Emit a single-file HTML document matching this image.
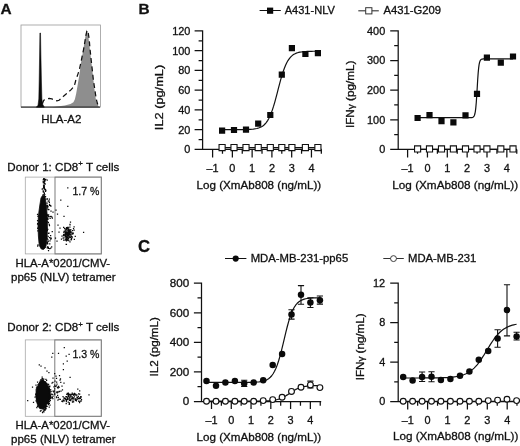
<!DOCTYPE html>
<html lang="en"><head><meta charset="utf-8"><title>Figure</title>
<style>html,body{margin:0;padding:0;background:#fff}svg{display:block}text{font-family:"Liberation Sans",sans-serif;fill:#111;stroke:#111;stroke-width:0.3px}</style>
</head><body>
<svg width="520" height="446" viewBox="0 0 520 446">
<rect width="520" height="446" fill="#fff"/>
<text x="0.5" y="14.1" font-size="15.4" font-weight="bold">A</text>
<text x="138.5" y="14.1" font-size="15.4" font-weight="bold">B</text>
<text x="137.9" y="252.3" font-size="16.7" font-weight="bold">C</text>
<g>
<rect x="21" y="25" width="79.4" height="82" fill="none" stroke="#9a9a9a" stroke-width="0.8"/>
<path d="M52 107.2 L57.2 106.4 L64.8 105.4 L70.5 104.1 L73.4 102.2 L74.9 99.3 L76.2 93.6 L77.5 86 L79.1 76.5 L81 63.1 L82.9 51.7 L84.8 40.2 L85.9 33 L86.7 29.6 L87.5 33 L88.6 38.3 L89.9 49.8 L91.5 63.1 L93 76.5 L94.3 87.9 L95.7 98.4 L97.2 104.1 L98.7 106.6 L99.5 107.2 Z" fill="#8e8e8e"/>
<path d="M36.3 107.2 L38 105.3 L38.8 99 L39.2 80 L39.6 55 L39.9 33 L40.5 33 L40.9 55 L41.4 80 L41.9 99 L42.8 104.5 L44.3 107.2 Z" fill="#0a0a0a" stroke="#0a0a0a" stroke-width="0.55"/>
<path d="M21 107.1 H100" stroke="#111" stroke-width="1" fill="none"/>
<path d="M42.3 103.8 L43.8 100.3 L46.7 98.9 L49.3 98.5 L51.8 98.9 L54.9 100.3 L57 100.8 L59.1 100.3 L63.8 95.9 L66.7 93.6 L71.4 89.4 L74.3 86 L75.8 80.3 L78.1 73.6 L79.5 68.8 L81 62.2 L82.3 55.5 L83.5 49.8 L85 41.2 L85.9 35.5 L87 30.4 L88.3 33.5 L89.2 39.3 L89.9 47.9 L90.5 53.6 L91.5 63.1 L92.4 70.7 L93.4 80.3 L94.3 86 L95.7 95.5 L96.6 100.3 L98.1 106" fill="none" stroke="#111" stroke-width="1.25" stroke-dasharray="5 3.4"/>
</g>
<text x="61.3" y="123.1" font-size="11.4" text-anchor="middle" textLength="40.2" lengthAdjust="spacingAndGlyphs">HLA-A2</text>
<text x="7.3" y="170.5" font-size="11.5" textLength="112" lengthAdjust="spacingAndGlyphs">Donor 1: CD8<tspan font-size="7.8" dy="-4.4">+</tspan><tspan dy="4.4"> T cells</tspan></text>
<rect x="25.3" y="177.1" width="76" height="76.8" fill="none" stroke="#a8a8a8" stroke-width="0.8"/>
<rect x="55" y="177.1" width="46.3" height="76.8" fill="none" stroke="#7c7c7c" stroke-width="1"/>
<path d="M42.5 195.5 L44.8 196 L45.6 200 L46.4 207 L47.2 215 L47.4 226 L47.2 236 L46.6 243 L45.6 247.5 L43.5 249.5 L41.3 249 L39.8 246.5 L39 243 L38.4 236 L38 226 L38.3 218 L39 211 L40 204 L41 198 Z" fill="#0a0a0a" stroke="#0a0a0a" stroke-width="0.8" stroke-linejoin="round"/>
<path d="M44.51 183.53h1.25v1.25h-1.25zM45.08 178.75h1.25v1.25h-1.25zM43.24 187.56h1.25v1.25h-1.25zM43.75 187.02h1.25v1.25h-1.25zM43.59 178.09h1.25v1.25h-1.25zM44.04 179.1h1.25v1.25h-1.25zM43.81 185.44h1.25v1.25h-1.25zM43.31 181.62h1.25v1.25h-1.25zM44.62 189.3h1.25v1.25h-1.25zM43.17 184.91h1.25v1.25h-1.25zM44.94 195.92h1.25v1.25h-1.25zM44.27 182.88h1.25v1.25h-1.25zM44.47 180.12h1.25v1.25h-1.25zM43.78 192.88h1.25v1.25h-1.25zM42.56 180.81h1.25v1.25h-1.25zM42.92 184.45h1.25v1.25h-1.25zM43.78 187.78h1.25v1.25h-1.25zM43.91 181.29h1.25v1.25h-1.25zM42.55 190.3h1.25v1.25h-1.25zM43.8 188.5h1.25v1.25h-1.25zM43 185.99h1.25v1.25h-1.25zM45 190.66h1.25v1.25h-1.25zM42.65 182.01h1.25v1.25h-1.25zM42.59 194h1.25v1.25h-1.25zM42.62 191.23h1.25v1.25h-1.25zM46.58 179.62h1.25v1.25h-1.25zM43.6 185.32h1.25v1.25h-1.25zM42.94 186.67h1.25v1.25h-1.25zM43.1 178.12h1.25v1.25h-1.25zM41.95 188.26h1.25v1.25h-1.25zM42.54 194.01h1.25v1.25h-1.25zM44.83 188.67h1.25v1.25h-1.25zM41.58 188.39h1.25v1.25h-1.25zM43.6 195.32h1.25v1.25h-1.25zM43.34 186.38h1.25v1.25h-1.25zM43.01 190.7h1.25v1.25h-1.25zM45.22 189.67h1.25v1.25h-1.25zM43.62 182.78h1.25v1.25h-1.25zM43.5 184.71h1.25v1.25h-1.25zM43.35 186.15h1.25v1.25h-1.25zM44.07 180.57h1.25v1.25h-1.25zM43.48 191.97h1.25v1.25h-1.25zM43.87 179.83h1.25v1.25h-1.25zM44.14 193.93h1.25v1.25h-1.25zM42.7 178.91h1.25v1.25h-1.25zM47.05 242.43h1.25v1.25h-1.25zM47.34 239.16h1.25v1.25h-1.25zM47.52 218.56h1.25v1.25h-1.25zM50.31 215.67h1.25v1.25h-1.25zM49.86 205.07h1.25v1.25h-1.25zM46.36 206.36h1.25v1.25h-1.25zM47.77 222.11h1.25v1.25h-1.25zM46.19 227.42h1.25v1.25h-1.25zM46.37 218.74h1.25v1.25h-1.25zM51.15 216.21h1.25v1.25h-1.25zM48.38 232.59h1.25v1.25h-1.25zM48.62 223.67h1.25v1.25h-1.25zM48.4 200.13h1.25v1.25h-1.25zM47.01 243.25h1.25v1.25h-1.25zM50.58 238.07h1.25v1.25h-1.25zM47 217.39h1.25v1.25h-1.25zM46.78 229.72h1.25v1.25h-1.25zM47.55 200.55h1.25v1.25h-1.25zM46.79 205.65h1.25v1.25h-1.25zM46.22 214.72h1.25v1.25h-1.25zM46.19 205.09h1.25v1.25h-1.25zM46.5 202.55h1.25v1.25h-1.25zM46.55 241.97h1.25v1.25h-1.25zM47.17 228.69h1.25v1.25h-1.25zM47.52 215.09h1.25v1.25h-1.25zM49.24 215.95h1.25v1.25h-1.25zM49.16 248.02h1.25v1.25h-1.25zM47.1 221.14h1.25v1.25h-1.25zM46.27 202.59h1.25v1.25h-1.25zM46.56 214.85h1.25v1.25h-1.25zM50.29 205.61h1.25v1.25h-1.25zM48.74 198.55h1.25v1.25h-1.25zM46.99 204.85h1.25v1.25h-1.25zM48.83 225.08h1.25v1.25h-1.25zM46.63 247.28h1.25v1.25h-1.25zM46.74 241.4h1.25v1.25h-1.25zM47.79 216.08h1.25v1.25h-1.25zM46.55 205.89h1.25v1.25h-1.25zM48.86 237.11h1.25v1.25h-1.25zM46.85 214.19h1.25v1.25h-1.25zM50.14 247.61h1.25v1.25h-1.25zM47.58 240.86h1.25v1.25h-1.25zM49.99 235.11h1.25v1.25h-1.25zM48.22 208.94h1.25v1.25h-1.25zM46.4 198.85h1.25v1.25h-1.25zM46.49 198.8h1.25v1.25h-1.25zM47.85 232.69h1.25v1.25h-1.25zM51.07 246.16h1.25v1.25h-1.25zM47.86 247.76h1.25v1.25h-1.25zM47.2 246.08h1.25v1.25h-1.25zM47.34 208.94h1.25v1.25h-1.25zM47.05 207.41h1.25v1.25h-1.25zM49.13 243.29h1.25v1.25h-1.25zM49.35 240.24h1.25v1.25h-1.25zM46.59 238.16h1.25v1.25h-1.25zM48.75 201.7h1.25v1.25h-1.25zM50.26 237.27h1.25v1.25h-1.25zM47.54 235.63h1.25v1.25h-1.25zM46.36 237.62h1.25v1.25h-1.25zM48.02 214.33h1.25v1.25h-1.25zM51.75 217.56h1.25v1.25h-1.25zM49.51 217.85h1.25v1.25h-1.25zM47.33 206.05h1.25v1.25h-1.25zM48.95 203.85h1.25v1.25h-1.25zM50.06 238.51h1.25v1.25h-1.25zM49.03 204.83h1.25v1.25h-1.25zM51.64 230.9h1.25v1.25h-1.25zM47.29 215.25h1.25v1.25h-1.25zM46.53 198.1h1.25v1.25h-1.25zM47.76 246.89h1.25v1.25h-1.25zM37.08 245.45h1.25v1.25h-1.25zM36.93 223.46h1.25v1.25h-1.25zM36.9 213.66h1.25v1.25h-1.25zM37.48 215.46h1.25v1.25h-1.25zM37.22 230.18h1.25v1.25h-1.25zM37.34 215.79h1.25v1.25h-1.25zM37.45 244.42h1.25v1.25h-1.25zM36.94 219.94h1.25v1.25h-1.25zM37.4 244.16h1.25v1.25h-1.25zM37.06 222.88h1.25v1.25h-1.25zM37.28 227.78h1.25v1.25h-1.25zM37.04 227.41h1.25v1.25h-1.25zM60.17 199.38h1.25v1.25h-1.25zM67.17 205.68h1.25v1.25h-1.25zM82.97 231.68h1.25v1.25h-1.25zM67.17 187.18h1.25v1.25h-1.25zM63.38 215.68h1.25v1.25h-1.25zM65.58 243.68h1.25v1.25h-1.25zM47.88 249.97h1.25v1.25h-1.25zM55.38 209.38h1.25v1.25h-1.25zM56.88 213.38h1.25v1.25h-1.25zM52.38 211.38h1.25v1.25h-1.25zM50.38 210.38h1.25v1.25h-1.25zM57.38 224.38h1.25v1.25h-1.25zM59.38 227.38h1.25v1.25h-1.25zM61.38 235.38h1.25v1.25h-1.25zM58.38 231.38h1.25v1.25h-1.25zM54.88 237.38h1.25v1.25h-1.25zM56.38 240.38h1.25v1.25h-1.25zM67.98 233.6h1.25v1.25h-1.25zM67.71 234.16h1.25v1.25h-1.25zM67.65 226.83h1.25v1.25h-1.25zM69.22 230.33h1.25v1.25h-1.25zM68.09 228.26h1.25v1.25h-1.25zM67.18 233.67h1.25v1.25h-1.25zM67.11 230.33h1.25v1.25h-1.25zM67.2 232.06h1.25v1.25h-1.25zM73.54 229.58h1.25v1.25h-1.25zM67.37 233.87h1.25v1.25h-1.25zM62.98 226.85h1.25v1.25h-1.25zM70.16 229.07h1.25v1.25h-1.25zM67.94 231.85h1.25v1.25h-1.25zM65.99 228.34h1.25v1.25h-1.25zM65.6 238.82h1.25v1.25h-1.25zM64.48 239.6h1.25v1.25h-1.25zM63.22 231.92h1.25v1.25h-1.25zM69.37 241.21h1.25v1.25h-1.25zM65.53 234.2h1.25v1.25h-1.25zM69.08 232.24h1.25v1.25h-1.25zM68.03 233.56h1.25v1.25h-1.25zM69.57 230.36h1.25v1.25h-1.25zM63.06 234.11h1.25v1.25h-1.25zM67.03 231.93h1.25v1.25h-1.25zM62.5 237.38h1.25v1.25h-1.25zM71.39 237.17h1.25v1.25h-1.25zM66.33 237.01h1.25v1.25h-1.25zM69.86 221.46h1.25v1.25h-1.25zM68.04 234.68h1.25v1.25h-1.25zM67.36 228.78h1.25v1.25h-1.25zM69.38 232.36h1.25v1.25h-1.25zM69.85 231.17h1.25v1.25h-1.25zM70.37 239.27h1.25v1.25h-1.25zM68.27 232.79h1.25v1.25h-1.25zM68.54 230.77h1.25v1.25h-1.25zM71.34 232.81h1.25v1.25h-1.25zM65.86 240.16h1.25v1.25h-1.25zM66.77 235.06h1.25v1.25h-1.25zM67.48 233.21h1.25v1.25h-1.25zM68.3 234.13h1.25v1.25h-1.25zM64.84 235.62h1.25v1.25h-1.25zM68.19 239.99h1.25v1.25h-1.25zM65.06 232.58h1.25v1.25h-1.25zM68.09 238.17h1.25v1.25h-1.25zM66.09 232.42h1.25v1.25h-1.25zM65.14 238.62h1.25v1.25h-1.25zM69.48 232.41h1.25v1.25h-1.25zM66.85 238.59h1.25v1.25h-1.25zM66.09 233.52h1.25v1.25h-1.25zM66.37 233.99h1.25v1.25h-1.25zM66.18 235.95h1.25v1.25h-1.25zM66.08 230.18h1.25v1.25h-1.25zM69.89 236.86h1.25v1.25h-1.25zM65.89 236.39h1.25v1.25h-1.25zM70.05 234.13h1.25v1.25h-1.25zM68.81 234.37h1.25v1.25h-1.25zM68.16 234.56h1.25v1.25h-1.25zM70.48 231.73h1.25v1.25h-1.25zM72.27 233.34h1.25v1.25h-1.25zM70.37 235.73h1.25v1.25h-1.25zM69.18 236.87h1.25v1.25h-1.25zM66.31 239.7h1.25v1.25h-1.25zM68.71 231.1h1.25v1.25h-1.25zM69.4 224.29h1.25v1.25h-1.25zM67.24 239.26h1.25v1.25h-1.25zM71.83 230.04h1.25v1.25h-1.25zM68.48 235.67h1.25v1.25h-1.25zM66.85 226.87h1.25v1.25h-1.25zM66.6 236.86h1.25v1.25h-1.25zM66.64 236.31h1.25v1.25h-1.25zM64.64 229.84h1.25v1.25h-1.25zM65.78 232.1h1.25v1.25h-1.25zM68.16 234.58h1.25v1.25h-1.25zM68.48 233.4h1.25v1.25h-1.25zM65.38 233.69h1.25v1.25h-1.25zM67.56 237.88h1.25v1.25h-1.25zM63.45 230.69h1.25v1.25h-1.25zM65.7 233.04h1.25v1.25h-1.25zM70.49 231.76h1.25v1.25h-1.25zM68.8 230.62h1.25v1.25h-1.25zM65.8 243.65h1.25v1.25h-1.25zM66.65 230.16h1.25v1.25h-1.25zM66.25 236.48h1.25v1.25h-1.25zM67.2 233.14h1.25v1.25h-1.25zM68.6 230.16h1.25v1.25h-1.25zM70.42 231.31h1.25v1.25h-1.25zM67.74 232.98h1.25v1.25h-1.25zM67.71 233.22h1.25v1.25h-1.25zM69.08 232.76h1.25v1.25h-1.25zM67.31 236.76h1.25v1.25h-1.25zM67.86 234.01h1.25v1.25h-1.25zM72.88 227.94h1.25v1.25h-1.25zM67.71 229.79h1.25v1.25h-1.25zM63.36 235.25h1.25v1.25h-1.25zM67.14 227.74h1.25v1.25h-1.25zM73.7 238.83h1.25v1.25h-1.25zM71.37 233.55h1.25v1.25h-1.25zM65.97 237.39h1.25v1.25h-1.25zM63.88 227.73h1.25v1.25h-1.25zM64.3 233.38h1.25v1.25h-1.25zM67.46 228.48h1.25v1.25h-1.25zM66.29 236.82h1.25v1.25h-1.25zM62.85 234.67h1.25v1.25h-1.25zM63.32 237.15h1.25v1.25h-1.25zM65.36 231.74h1.25v1.25h-1.25zM65.32 234.94h1.25v1.25h-1.25zM68.26 232.28h1.25v1.25h-1.25zM68.01 236.17h1.25v1.25h-1.25zM65.66 228.84h1.25v1.25h-1.25zM65.42 230.78h1.25v1.25h-1.25zM63.05 239.57h1.25v1.25h-1.25zM67.79 233.35h1.25v1.25h-1.25zM65.88 227.01h1.25v1.25h-1.25zM65.32 238.95h1.25v1.25h-1.25zM69.47 233.81h1.25v1.25h-1.25zM68.9 233.04h1.25v1.25h-1.25zM71.59 236.26h1.25v1.25h-1.25zM70.81 238.94h1.25v1.25h-1.25zM68.03 229.98h1.25v1.25h-1.25zM70.44 231.23h1.25v1.25h-1.25zM64.49 228.17h1.25v1.25h-1.25zM64.57 234.64h1.25v1.25h-1.25zM68.43 233.4h1.25v1.25h-1.25zM72.58 232.83h1.25v1.25h-1.25zM70.64 235.59h1.25v1.25h-1.25zM67.92 232.71h1.25v1.25h-1.25zM72.23 232.34h1.25v1.25h-1.25zM64.17 231.22h1.25v1.25h-1.25zM71.92 229.95h1.25v1.25h-1.25zM66.8 239.58h1.25v1.25h-1.25zM70.71 237.73h1.25v1.25h-1.25zM74.63 235.86h1.25v1.25h-1.25zM69.25 226.39h1.25v1.25h-1.25zM67.9 237.85h1.25v1.25h-1.25zM67.16 232.91h1.25v1.25h-1.25zM68.88 236.36h1.25v1.25h-1.25zM67.53 231.35h1.25v1.25h-1.25zM69.36 223.72h1.25v1.25h-1.25zM65.43 237.95h1.25v1.25h-1.25zM73.46 226.25h1.25v1.25h-1.25zM67.57 232.48h1.25v1.25h-1.25zM64.88 236.47h1.25v1.25h-1.25zM65.72 233.22h1.25v1.25h-1.25zM68.79 229.15h1.25v1.25h-1.25zM68 232.73h1.25v1.25h-1.25zM69.57 231.86h1.25v1.25h-1.25zM69.61 234h1.25v1.25h-1.25zM67.53 233.37h1.25v1.25h-1.25zM60.84 238.5h1.25v1.25h-1.25zM72.41 232.54h1.25v1.25h-1.25z" fill="#0a0a0a"/>
<text x="72.5" y="194.6" font-size="11.7" textLength="27" lengthAdjust="spacingAndGlyphs">1.7 %</text>
<text x="62.8" y="267.2" font-size="11.5" text-anchor="middle" textLength="94.6" lengthAdjust="spacingAndGlyphs">HLA-A*0201/CMV-</text>
<text x="63.3" y="280.9" font-size="11.5" text-anchor="middle" textLength="104.6" lengthAdjust="spacingAndGlyphs">pp65 (NLV) tetramer</text>
<text x="7.3" y="331.3" font-size="11.5" textLength="112" lengthAdjust="spacingAndGlyphs">Donor 2: CD8<tspan font-size="7.8" dy="-4.4">+</tspan><tspan dy="4.4"> T cells</tspan></text>
<rect x="25.3" y="339.9" width="76" height="76.4" fill="none" stroke="#a8a8a8" stroke-width="0.8"/>
<rect x="54.8" y="339.9" width="46.5" height="76.4" fill="none" stroke="#7c7c7c" stroke-width="1"/>
<path d="M42.3 379.5 L44.4 380.9 L47.2 384.6 L49.5 389.3 L50.3 393.1 L49.8 397.8 L48.1 402.5 L45.3 406.7 L42.5 409.1 L40.2 408.7 L38.4 406.2 L36.8 401.5 L35.9 395.9 L36.1 391.2 L37.4 386.5 L39.8 382.3 Z" fill="#0a0a0a" stroke="#0a0a0a" stroke-width="0.8" stroke-linejoin="round"/>
<path d="M40.44 410.09h1.25v1.25h-1.25zM36.22 407.08h1.25v1.25h-1.25zM35.36 384.61h1.25v1.25h-1.25zM38.14 404.43h1.25v1.25h-1.25zM48.55 397.68h1.25v1.25h-1.25zM47.64 401.66h1.25v1.25h-1.25zM48.67 388.32h1.25v1.25h-1.25zM42.5 406.35h1.25v1.25h-1.25zM45.15 407.61h1.25v1.25h-1.25zM36.81 405.65h1.25v1.25h-1.25zM44.98 381.25h1.25v1.25h-1.25zM36.94 381.53h1.25v1.25h-1.25zM35.53 389.22h1.25v1.25h-1.25zM41.03 378.41h1.25v1.25h-1.25zM36.26 397.84h1.25v1.25h-1.25zM42.58 380.37h1.25v1.25h-1.25zM48.84 397.93h1.25v1.25h-1.25zM48.59 387.55h1.25v1.25h-1.25zM38.67 405.48h1.25v1.25h-1.25zM40.64 405.93h1.25v1.25h-1.25zM41.91 411.94h1.25v1.25h-1.25zM38.9 382.82h1.25v1.25h-1.25zM36.75 402.97h1.25v1.25h-1.25zM45.64 405.14h1.25v1.25h-1.25zM47.96 386.21h1.25v1.25h-1.25zM36.05 394.02h1.25v1.25h-1.25zM50.72 393.4h1.25v1.25h-1.25zM36.35 397.86h1.25v1.25h-1.25zM47.97 401.01h1.25v1.25h-1.25zM38.84 405.22h1.25v1.25h-1.25zM42.14 406.94h1.25v1.25h-1.25zM35.84 387.4h1.25v1.25h-1.25zM36.38 401.41h1.25v1.25h-1.25zM36.47 401.19h1.25v1.25h-1.25zM39.24 404.52h1.25v1.25h-1.25zM48.46 398.83h1.25v1.25h-1.25zM48.6 406.49h1.25v1.25h-1.25zM35.04 393.45h1.25v1.25h-1.25zM44.07 408.87h1.25v1.25h-1.25zM41.68 406.01h1.25v1.25h-1.25zM35.82 398.61h1.25v1.25h-1.25zM49.41 389.53h1.25v1.25h-1.25zM50.14 395.94h1.25v1.25h-1.25zM48.9 396.49h1.25v1.25h-1.25zM34.43 396.58h1.25v1.25h-1.25zM36.46 386.24h1.25v1.25h-1.25zM47.85 388.31h1.25v1.25h-1.25zM46.01 379.66h1.25v1.25h-1.25zM42.55 410.65h1.25v1.25h-1.25zM47.68 402.51h1.25v1.25h-1.25zM39.56 380.59h1.25v1.25h-1.25zM48.32 389.15h1.25v1.25h-1.25zM43.17 378.46h1.25v1.25h-1.25zM36.42 397.19h1.25v1.25h-1.25zM43.7 381.52h1.25v1.25h-1.25zM43.28 408.73h1.25v1.25h-1.25zM40.24 406.81h1.25v1.25h-1.25zM46.65 402.67h1.25v1.25h-1.25zM40.1 379.18h1.25v1.25h-1.25zM47.93 403.29h1.25v1.25h-1.25zM36.8 387.09h1.25v1.25h-1.25zM37.72 402.05h1.25v1.25h-1.25zM49.86 394.77h1.25v1.25h-1.25zM39.75 410.46h1.25v1.25h-1.25zM38.39 383.01h1.25v1.25h-1.25zM47.51 384.52h1.25v1.25h-1.25zM42.59 406.34h1.25v1.25h-1.25zM48.54 390.63h1.25v1.25h-1.25zM49.27 395.7h1.25v1.25h-1.25zM35.97 393.92h1.25v1.25h-1.25zM42.16 408.08h1.25v1.25h-1.25zM39.16 381.88h1.25v1.25h-1.25zM48.67 396.54h1.25v1.25h-1.25zM38.59 406.7h1.25v1.25h-1.25zM44.64 406.93h1.25v1.25h-1.25zM44.25 381.82h1.25v1.25h-1.25zM44.49 408.06h1.25v1.25h-1.25zM49.09 391.17h1.25v1.25h-1.25zM43.41 409.68h1.25v1.25h-1.25zM43.56 406.01h1.25v1.25h-1.25zM49.04 389.58h1.25v1.25h-1.25zM36.19 394.12h1.25v1.25h-1.25zM36.67 400.62h1.25v1.25h-1.25zM39.15 382.17h1.25v1.25h-1.25zM37.62 401.66h1.25v1.25h-1.25zM43.99 406.91h1.25v1.25h-1.25zM48.25 397.78h1.25v1.25h-1.25zM49.69 399.65h1.25v1.25h-1.25zM47.98 383.63h1.25v1.25h-1.25zM41.56 376.56h1.25v1.25h-1.25zM39.59 404.67h1.25v1.25h-1.25zM45.47 408.12h1.25v1.25h-1.25zM49.02 396.51h1.25v1.25h-1.25zM39.03 381.9h1.25v1.25h-1.25zM39.18 405.76h1.25v1.25h-1.25zM45.8 406.07h1.25v1.25h-1.25zM38.89 403.7h1.25v1.25h-1.25zM50.1 389.28h1.25v1.25h-1.25zM44.56 409.42h1.25v1.25h-1.25zM38.22 404.8h1.25v1.25h-1.25zM35.41 400.33h1.25v1.25h-1.25zM49.14 398.15h1.25v1.25h-1.25zM47.87 387.64h1.25v1.25h-1.25zM45.09 408.15h1.25v1.25h-1.25zM50.02 396.76h1.25v1.25h-1.25zM36.82 401.06h1.25v1.25h-1.25zM49.88 397.75h1.25v1.25h-1.25zM50.46 397.42h1.25v1.25h-1.25zM42.17 407.94h1.25v1.25h-1.25zM42.36 379.88h1.25v1.25h-1.25zM41.56 407.13h1.25v1.25h-1.25zM48.85 390.21h1.25v1.25h-1.25zM41.11 380.62h1.25v1.25h-1.25zM40.03 405.06h1.25v1.25h-1.25zM42.69 381.28h1.25v1.25h-1.25zM49.12 385.88h1.25v1.25h-1.25zM50.26 396.23h1.25v1.25h-1.25zM43.35 411.34h1.25v1.25h-1.25zM48.62 390.02h1.25v1.25h-1.25zM37.93 401.84h1.25v1.25h-1.25zM35.37 394.37h1.25v1.25h-1.25zM48.57 387.7h1.25v1.25h-1.25zM41.92 377.95h1.25v1.25h-1.25zM45.21 382.34h1.25v1.25h-1.25zM38.99 407.23h1.25v1.25h-1.25zM39.43 407.14h1.25v1.25h-1.25zM48.98 401.01h1.25v1.25h-1.25zM44.43 405.45h1.25v1.25h-1.25zM48.71 399.29h1.25v1.25h-1.25zM49.2 396.76h1.25v1.25h-1.25zM48.73 392.17h1.25v1.25h-1.25zM47.55 384.41h1.25v1.25h-1.25zM47.71 400.05h1.25v1.25h-1.25zM48.76 402.72h1.25v1.25h-1.25zM36.79 397.82h1.25v1.25h-1.25zM43.2 408.62h1.25v1.25h-1.25zM39.39 381.5h1.25v1.25h-1.25zM42.39 379.63h1.25v1.25h-1.25zM47.74 404.08h1.25v1.25h-1.25zM45.92 382.77h1.25v1.25h-1.25zM37.37 404.52h1.25v1.25h-1.25zM42.01 380.98h1.25v1.25h-1.25zM42.67 407.63h1.25v1.25h-1.25zM46.49 405.63h1.25v1.25h-1.25zM39.28 406.38h1.25v1.25h-1.25zM36.72 402.82h1.25v1.25h-1.25zM43.18 406.13h1.25v1.25h-1.25zM45.29 378.75h1.25v1.25h-1.25zM49.39 404.42h1.25v1.25h-1.25zM35.71 395.99h1.25v1.25h-1.25zM49.19 385.54h1.25v1.25h-1.25zM48.42 396.94h1.25v1.25h-1.25zM44.89 406.19h1.25v1.25h-1.25zM50.46 390.96h1.25v1.25h-1.25zM37.47 404.42h1.25v1.25h-1.25zM46.99 383.41h1.25v1.25h-1.25zM43.56 381.12h1.25v1.25h-1.25zM49.18 388.89h1.25v1.25h-1.25zM37.46 384.12h1.25v1.25h-1.25zM43.77 406.63h1.25v1.25h-1.25zM38.67 364.27h1.25v1.25h-1.25zM40.38 365.38h1.25v1.25h-1.25zM44.38 367.18h1.25v1.25h-1.25zM48.27 371.98h1.25v1.25h-1.25zM46.38 370.38h1.25v1.25h-1.25zM54.08 372.88h1.25v1.25h-1.25zM58.88 374.88h1.25v1.25h-1.25zM62.77 369.07h1.25v1.25h-1.25zM62.77 363.27h1.25v1.25h-1.25zM69.47 376.77h1.25v1.25h-1.25zM66.58 360.38h1.25v1.25h-1.25zM65.58 355.57h1.25v1.25h-1.25zM68.47 353.68h1.25v1.25h-1.25zM63.67 346.88h1.25v1.25h-1.25zM57.88 352.68h1.25v1.25h-1.25zM52.17 352.68h1.25v1.25h-1.25zM51.17 356.57h1.25v1.25h-1.25zM27.07 399.88h1.25v1.25h-1.25zM31.88 386.38h1.25v1.25h-1.25zM32.88 401.77h1.25v1.25h-1.25zM77.17 388.38h1.25v1.25h-1.25zM79.08 390.27h1.25v1.25h-1.25zM52.38 377.38h1.25v1.25h-1.25zM54.38 380.38h1.25v1.25h-1.25zM56.38 383.38h1.25v1.25h-1.25zM59.38 379.38h1.25v1.25h-1.25zM61.38 385.38h1.25v1.25h-1.25zM57.38 387.38h1.25v1.25h-1.25zM60.38 390.38h1.25v1.25h-1.25zM63.38 382.38h1.25v1.25h-1.25zM55.38 375.38h1.25v1.25h-1.25zM51.38 382.38h1.25v1.25h-1.25zM71.96 398.06h1.25v1.25h-1.25zM73.84 394.05h1.25v1.25h-1.25zM64.04 397.96h1.25v1.25h-1.25zM70.19 395.56h1.25v1.25h-1.25zM77.81 398.11h1.25v1.25h-1.25zM74.44 398.76h1.25v1.25h-1.25zM80.06 396.07h1.25v1.25h-1.25zM68.81 399.86h1.25v1.25h-1.25zM72.94 393.59h1.25v1.25h-1.25zM66.66 399.12h1.25v1.25h-1.25zM71.37 396.51h1.25v1.25h-1.25zM63.27 397.38h1.25v1.25h-1.25zM74.77 399.63h1.25v1.25h-1.25zM67.68 395.25h1.25v1.25h-1.25zM66.73 392.86h1.25v1.25h-1.25zM75.81 399.92h1.25v1.25h-1.25zM69.32 399.05h1.25v1.25h-1.25zM78.98 397.18h1.25v1.25h-1.25zM70.15 399.94h1.25v1.25h-1.25zM65.61 398.99h1.25v1.25h-1.25zM63.68 400.17h1.25v1.25h-1.25zM64.69 398.06h1.25v1.25h-1.25zM70.11 393.74h1.25v1.25h-1.25zM66.56 398.74h1.25v1.25h-1.25zM67.82 395.71h1.25v1.25h-1.25zM65.09 396.22h1.25v1.25h-1.25zM69.24 396.88h1.25v1.25h-1.25zM76.9 398.4h1.25v1.25h-1.25zM67.76 392.6h1.25v1.25h-1.25zM70.14 399.36h1.25v1.25h-1.25zM68.75 402.3h1.25v1.25h-1.25zM80.3 400.21h1.25v1.25h-1.25zM68.57 403.66h1.25v1.25h-1.25zM73.87 392.72h1.25v1.25h-1.25zM78.01 393.34h1.25v1.25h-1.25zM61.45 400.6h1.25v1.25h-1.25zM78.74 397.6h1.25v1.25h-1.25zM75.83 400.25h1.25v1.25h-1.25zM59.69 398.86h1.25v1.25h-1.25zM73.27 394.64h1.25v1.25h-1.25zM73.8 396.28h1.25v1.25h-1.25zM71.53 397.55h1.25v1.25h-1.25zM79.51 397.72h1.25v1.25h-1.25zM68.06 393.28h1.25v1.25h-1.25zM65.59 402.96h1.25v1.25h-1.25zM72.36 400.23h1.25v1.25h-1.25zM74.93 393.55h1.25v1.25h-1.25zM66.59 396.7h1.25v1.25h-1.25zM75.41 394.71h1.25v1.25h-1.25zM66 396.09h1.25v1.25h-1.25zM63.59 397.3h1.25v1.25h-1.25zM69.77 395.17h1.25v1.25h-1.25zM64.44 398.26h1.25v1.25h-1.25zM80.04 397.62h1.25v1.25h-1.25zM62.6 399.27h1.25v1.25h-1.25zM75.87 398.4h1.25v1.25h-1.25zM71.38 396.36h1.25v1.25h-1.25zM70.38 394.4h1.25v1.25h-1.25zM72.25 401.29h1.25v1.25h-1.25zM71.84 401.42h1.25v1.25h-1.25zM74.46 397.9h1.25v1.25h-1.25zM62.11 401.07h1.25v1.25h-1.25zM71.62 392.51h1.25v1.25h-1.25zM80.28 400.66h1.25v1.25h-1.25zM78.97 401.64h1.25v1.25h-1.25zM69.16 398.32h1.25v1.25h-1.25zM65.75 401h1.25v1.25h-1.25zM68.84 403.61h1.25v1.25h-1.25zM65.73 400.27h1.25v1.25h-1.25zM78.97 398.03h1.25v1.25h-1.25zM68.26 394.84h1.25v1.25h-1.25zM78.05 400.38h1.25v1.25h-1.25zM80.59 396.21h1.25v1.25h-1.25zM80.91 399.05h1.25v1.25h-1.25zM75.29 398.96h1.25v1.25h-1.25zM67.29 397.41h1.25v1.25h-1.25zM76.81 396.88h1.25v1.25h-1.25zM70.97 398.18h1.25v1.25h-1.25zM72.97 401.29h1.25v1.25h-1.25zM65.75 399.11h1.25v1.25h-1.25zM67.05 397.99h1.25v1.25h-1.25zM66.14 393.82h1.25v1.25h-1.25zM67.48 394.05h1.25v1.25h-1.25zM79.06 393.62h1.25v1.25h-1.25zM66.61 398.69h1.25v1.25h-1.25zM67.58 401.61h1.25v1.25h-1.25zM68.79 393.66h1.25v1.25h-1.25zM76.27 396.44h1.25v1.25h-1.25zM88.38 394.28h1.25v1.25h-1.25zM66.61 397.99h1.25v1.25h-1.25zM62.71 399.96h1.25v1.25h-1.25zM78.92 402.05h1.25v1.25h-1.25zM72.85 397.31h1.25v1.25h-1.25zM78.54 400.82h1.25v1.25h-1.25zM68.48 396.37h1.25v1.25h-1.25zM64.74 398.54h1.25v1.25h-1.25zM69.51 399.86h1.25v1.25h-1.25zM76.25 394.17h1.25v1.25h-1.25zM72.55 398.6h1.25v1.25h-1.25zM67.36 398.26h1.25v1.25h-1.25zM78.45 397.32h1.25v1.25h-1.25zM69.4 396.76h1.25v1.25h-1.25zM71.67 396.21h1.25v1.25h-1.25zM72.72 394.17h1.25v1.25h-1.25zM65.22 398.9h1.25v1.25h-1.25zM77.74 395.67h1.25v1.25h-1.25zM70 399.47h1.25v1.25h-1.25zM67.59 398.41h1.25v1.25h-1.25zM71.47 393.8h1.25v1.25h-1.25zM59.68 398.63h1.25v1.25h-1.25zM53.39 391.29h1.25v1.25h-1.25zM56.83 386.65h1.25v1.25h-1.25zM53.33 386.28h1.25v1.25h-1.25zM59.87 378.13h1.25v1.25h-1.25zM58.82 390.91h1.25v1.25h-1.25zM54.12 392.85h1.25v1.25h-1.25zM55.86 385.37h1.25v1.25h-1.25zM55.77 391.54h1.25v1.25h-1.25zM57.41 391.55h1.25v1.25h-1.25zM55.91 377.83h1.25v1.25h-1.25zM54.13 393.88h1.25v1.25h-1.25zM57.94 385.82h1.25v1.25h-1.25zM54.13 384.45h1.25v1.25h-1.25zM52.11 393.73h1.25v1.25h-1.25zM58.67 390.79h1.25v1.25h-1.25zM57.27 399.43h1.25v1.25h-1.25zM53.02 391.23h1.25v1.25h-1.25zM56.04 396.92h1.25v1.25h-1.25zM52.26 381.74h1.25v1.25h-1.25zM57.44 387.27h1.25v1.25h-1.25zM57.01 394.82h1.25v1.25h-1.25zM57.72 396.64h1.25v1.25h-1.25zM57.03 391.35h1.25v1.25h-1.25zM51.75 396.71h1.25v1.25h-1.25zM52.47 390.61h1.25v1.25h-1.25zM60.17 381.64h1.25v1.25h-1.25zM58.44 386.71h1.25v1.25h-1.25zM56.03 381.62h1.25v1.25h-1.25zM50.32 393.92h1.25v1.25h-1.25zM62.42 396.01h1.25v1.25h-1.25zM56.6 392.24h1.25v1.25h-1.25zM61.31 400.72h1.25v1.25h-1.25zM54.68 385.63h1.25v1.25h-1.25zM61.85 389.27h1.25v1.25h-1.25zM58.33 398.46h1.25v1.25h-1.25zM54.05 388.26h1.25v1.25h-1.25zM52.22 398.07h1.25v1.25h-1.25zM55.93 396.33h1.25v1.25h-1.25zM52.45 395.4h1.25v1.25h-1.25zM53.86 390.14h1.25v1.25h-1.25z" fill="#0a0a0a"/>
<text x="72.5" y="358.1" font-size="11.7" textLength="27" lengthAdjust="spacingAndGlyphs">1.3 %</text>
<text x="62.8" y="429.4" font-size="11.5" text-anchor="middle" textLength="94.6" lengthAdjust="spacingAndGlyphs">HLA-A*0201/CMV-</text>
<text x="63.3" y="442.9" font-size="11.5" text-anchor="middle" textLength="104.6" lengthAdjust="spacingAndGlyphs">pp65 (NLV) tetramer</text>
<path d="M259.6 10.5H280.8" stroke="#111" stroke-width="1" fill="none"/>
<path d="M358.3 10.8H378.8" stroke="#333" stroke-width="1.1" fill="none"/>
<path d="M267 7.6h6.2v6.2h-6.2z" fill="#0a0a0a"/>
<rect x="365.7" y="7.7" width="6.2" height="6.2" fill="#fff" stroke="#333" stroke-width="1"/>
<text x="284.7" y="14.4" font-size="10.7" textLength="50.2" lengthAdjust="spacingAndGlyphs">A431-NLV</text>
<text x="383.5" y="14.4" font-size="10.7" textLength="57.6" lengthAdjust="spacingAndGlyphs">A431-G209</text>
<path d="M202.6 30.27V149.4H321.7M202.6 149.4h-8M202.6 139.53h-4M202.6 129.65h-8M202.6 119.78h-4M202.6 109.9h-8M202.6 100.03h-4M202.6 90.15h-8M202.6 80.28h-4M202.6 70.4h-8M202.6 60.53h-4M202.6 50.65h-8M202.6 40.78h-4M202.6 30.9h-8M212.6 149.4v8M222.48 149.4v4.3M232.37 149.4v8M242.25 149.4v4.3M252.14 149.4v8M262.02 149.4v4.3M271.91 149.4v8M281.79 149.4v4.3M291.68 149.4v8M301.56 149.4v4.3M311.45 149.4v8M321.33 149.4v4.3" fill="none" stroke="#111" stroke-width="1.25"/>
<text x="190.3" y="153.25" font-size="10.9" text-anchor="end">0</text>
<text x="190.3" y="133.5" font-size="10.9" text-anchor="end">20</text>
<text x="190.3" y="113.75" font-size="10.9" text-anchor="end">40</text>
<text x="190.3" y="94" font-size="10.9" text-anchor="end">60</text>
<text x="190.3" y="74.25" font-size="10.9" text-anchor="end">80</text>
<text x="190.3" y="54.5" font-size="10.9" text-anchor="end">100</text>
<text x="190.3" y="34.75" font-size="10.9" text-anchor="end">120</text>
<text x="212.6" y="171.9" font-size="10.9" text-anchor="middle">–1</text>
<text x="232.37" y="171.9" font-size="10.9" text-anchor="middle">0</text>
<text x="252.14" y="171.9" font-size="10.9" text-anchor="middle">1</text>
<text x="271.91" y="171.9" font-size="10.9" text-anchor="middle">2</text>
<text x="291.68" y="171.9" font-size="10.9" text-anchor="middle">3</text>
<text x="311.45" y="171.9" font-size="10.9" text-anchor="middle">4</text>
<text x="196.6" y="189.1" font-size="11.1" textLength="124.6" lengthAdjust="spacingAndGlyphs">Log (XmAb808 (ng/mL))</text>
<text transform="translate(163.2 97.5) rotate(-90)" font-size="11.1" text-anchor="middle" textLength="65.3" lengthAdjust="spacingAndGlyphs">IL2 (pg/mL)</text>
<path d="M222.1 147.6H317.9" fill="none" stroke="#111" stroke-width="1.2" stroke-linejoin="round"/>
<path d="M222.1 129.7 L223.3 129.7 L224.5 129.7 L225.69 129.7 L226.89 129.7 L228.09 129.7 L229.28 129.69 L230.48 129.69 L231.68 129.69 L232.88 129.69 L234.07 129.69 L235.27 129.68 L236.47 129.68 L237.67 129.67 L238.86 129.67 L240.06 129.66 L241.26 129.64 L242.46 129.63 L243.66 129.61 L244.85 129.59 L246.05 129.56 L247.25 129.52 L248.44 129.47 L249.64 129.41 L250.84 129.33 L252.04 129.23 L253.23 129.11 L254.43 128.95 L255.63 128.75 L256.83 128.5 L258.02 128.19 L259.22 127.79 L260.42 127.3 L261.62 126.68 L262.81 125.91 L264.01 124.96 L265.21 123.78 L266.41 122.35 L267.6 120.61 L268.8 118.52 L270 116.05 L271.2 113.17 L272.39 109.86 L273.59 106.15 L274.79 102.06 L275.99 97.69 L277.19 93.11 L278.38 88.46 L279.58 83.87 L280.78 79.46 L281.97 75.33 L283.17 71.55 L284.37 68.19 L285.57 65.24 L286.76 62.71 L287.96 60.57 L289.16 58.79 L290.36 57.31 L291.55 56.1 L292.75 55.12 L293.95 54.32 L295.15 53.68 L296.34 53.17 L297.54 52.77 L298.74 52.44 L299.94 52.18 L301.13 51.98 L302.33 51.81 L303.53 51.69 L304.73 51.58 L305.92 51.5 L307.12 51.44 L308.32 51.39 L309.52 51.35 L310.71 51.32 L311.91 51.29 L313.11 51.27 L314.31 51.26 L315.5 51.25 L316.7 51.24 L317.9 51.23" fill="none" stroke="#111" stroke-width="1.2" stroke-linejoin="round"/>
<path d="M219.05 144.55h6.1v6.1h-6.1zM230.95 144.55h6.1v6.1h-6.1zM242.95 144.55h6.1v6.1h-6.1zM255.15 144.55h6.1v6.1h-6.1zM267.25 144.55h6.1v6.1h-6.1zM278.75 144.55h6.1v6.1h-6.1zM288.85 144.55h6.1v6.1h-6.1zM302.35 144.55h6.1v6.1h-6.1zM314.85 144.55h6.1v6.1h-6.1z" fill="#fff" stroke="#111" stroke-width="1.1"/>
<path d="M219 127.5h6.2v6.2h-6.2zM230.9 126.9h6.2v6.2h-6.2zM242.9 126.5h6.2v6.2h-6.2zM255.1 120.6h6.2v6.2h-6.2zM267.2 111.9h6.2v6.2h-6.2zM278.7 71.6h6.2v6.2h-6.2zM288.8 45.1h6.2v6.2h-6.2zM302.3 50.9h6.2v6.2h-6.2zM314.8 50h6.2v6.2h-6.2z" fill="#0a0a0a"/>
<path d="M398.2 30.27V149.4H517M398.2 149.4h-8M398.2 134.59h-4M398.2 119.78h-8M398.2 104.96h-4M398.2 90.15h-8M398.2 75.34h-4M398.2 60.53h-8M398.2 45.71h-4M398.2 30.9h-8M407.6 149.4v8M417.53 149.4v4.3M427.45 149.4v8M437.38 149.4v4.3M447.3 149.4v8M457.23 149.4v4.3M467.15 149.4v8M477.08 149.4v4.3M487 149.4v8M496.93 149.4v4.3M506.85 149.4v8M516.77 149.4v4.3" fill="none" stroke="#111" stroke-width="1.25"/>
<text x="385.2" y="153.25" font-size="10.9" text-anchor="end">0</text>
<text x="385.2" y="123.62" font-size="10.9" text-anchor="end">100</text>
<text x="385.2" y="94" font-size="10.9" text-anchor="end">200</text>
<text x="385.2" y="64.38" font-size="10.9" text-anchor="end">300</text>
<text x="385.2" y="34.75" font-size="10.9" text-anchor="end">400</text>
<text x="407.6" y="171.9" font-size="10.9" text-anchor="middle">–1</text>
<text x="427.45" y="171.9" font-size="10.9" text-anchor="middle">0</text>
<text x="447.3" y="171.9" font-size="10.9" text-anchor="middle">1</text>
<text x="467.15" y="171.9" font-size="10.9" text-anchor="middle">2</text>
<text x="487" y="171.9" font-size="10.9" text-anchor="middle">3</text>
<text x="506.85" y="171.9" font-size="10.9" text-anchor="middle">4</text>
<text x="392.3" y="189.1" font-size="11.1" textLength="125.9" lengthAdjust="spacingAndGlyphs">Log (XmAb808 (ng/mL))</text>
<text transform="translate(354.2 94.4) rotate(-90)" font-size="10.8" text-anchor="middle" textLength="67.4" lengthAdjust="spacingAndGlyphs">IFN<tspan font-size="9.3">γ</tspan> (pg/mL)</text>
<path d="M417.6 149.3H513" fill="none" stroke="#111" stroke-width="1.2" stroke-linejoin="round"/>
<path d="M417.6 117.7 L418.08 117.7 L418.55 117.7 L419.03 117.7 L419.51 117.7 L419.99 117.7 L420.46 117.7 L420.94 117.7 L421.42 117.7 L421.89 117.7 L422.37 117.7 L422.85 117.7 L423.32 117.7 L423.8 117.7 L424.28 117.7 L424.75 117.7 L425.23 117.7 L425.71 117.7 L426.19 117.7 L426.66 117.7 L427.14 117.7 L427.62 117.7 L428.09 117.7 L428.57 117.7 L429.05 117.7 L429.53 117.7 L430 117.7 L430.48 117.7 L430.96 117.7 L431.43 117.7 L431.91 117.7 L432.39 117.7 L432.86 117.7 L433.34 117.7 L433.82 117.7 L434.3 117.7 L434.77 117.7 L435.25 117.7 L435.73 117.7 L436.2 117.7 L436.68 117.7 L437.16 117.7 L437.63 117.7 L438.11 117.7 L438.59 117.7 L439.06 117.7 L439.54 117.7 L440.02 117.7 L440.5 117.7 L440.97 117.7 L441.45 117.7 L441.93 117.7 L442.4 117.7 L442.88 117.7 L443.36 117.7 L443.84 117.7 L444.31 117.7 L444.79 117.7 L445.27 117.7 L445.74 117.7 L446.22 117.7 L446.7 117.7 L447.17 117.7 L447.65 117.7 L448.13 117.7 L448.61 117.7 L449.08 117.7 L449.56 117.7 L450.04 117.7 L450.51 117.7 L450.99 117.7 L451.47 117.7 L451.94 117.7 L452.42 117.7 L452.9 117.7 L453.38 117.7 L453.85 117.7 L454.33 117.7 L454.81 117.7 L455.28 117.7 L455.76 117.7 L456.24 117.7 L456.71 117.7 L457.19 117.7 L457.67 117.7 L458.14 117.7 L458.62 117.7 L459.1 117.7 L459.58 117.7 L460.05 117.7 L460.53 117.7 L461.01 117.7 L461.48 117.7 L461.96 117.7 L462.44 117.7 L462.92 117.7 L463.39 117.7 L463.87 117.7 L464.35 117.7 L464.82 117.7 L465.3 117.7 L465.78 117.7 L466.25 117.7 L466.73 117.7 L467.21 117.7 L467.69 117.7 L468.16 117.7 L468.64 117.7 L469.12 117.69 L469.59 117.69 L470.07 117.68 L470.55 117.67 L471.02 117.65 L471.5 117.62 L471.98 117.56 L472.46 117.45 L472.93 117.27 L473.41 116.96 L473.89 116.43 L474.36 115.53 L474.84 114.02 L475.32 111.59 L475.79 107.83 L476.27 102.43 L476.75 95.42 L477.23 87.43 L477.7 79.57 L478.18 72.87 L478.66 67.84 L479.13 64.4 L479.61 62.19 L480.09 60.84 L480.56 60.03 L481.04 59.56 L481.52 59.28 L482 59.12 L482.47 59.03 L482.95 58.97 L483.43 58.94 L483.9 58.92 L484.38 58.91 L484.86 58.91 L485.33 58.9 L485.81 58.9 L486.29 58.9 L486.76 58.9 L487.24 58.9 L487.72 58.9 L488.2 58.9 L488.67 58.9 L489.15 58.9 L489.63 58.9 L490.1 58.9 L490.58 58.9 L491.06 58.9 L491.54 58.9 L492.01 58.9 L492.49 58.9 L492.97 58.9 L493.44 58.9 L493.92 58.9 L494.4 58.9 L494.87 58.9 L495.35 58.9 L495.83 58.9 L496.31 58.9 L496.78 58.9 L497.26 58.9 L497.74 58.9 L498.21 58.9 L498.69 58.9 L499.17 58.9 L499.64 58.9 L500.12 58.9 L500.6 58.9 L501.07 58.9 L501.55 58.9 L502.03 58.9 L502.51 58.9 L502.98 58.9 L503.46 58.9 L503.94 58.9 L504.41 58.9 L504.89 58.9 L505.37 58.9 L505.85 58.9 L506.32 58.9 L506.8 58.9 L507.28 58.9 L507.75 58.9 L508.23 58.9 L508.71 58.9 L509.18 58.9 L509.66 58.9 L510.14 58.9 L510.62 58.9 L511.09 58.9 L511.57 58.9 L512.05 58.9 L512.52 58.9 L513 58.9" fill="none" stroke="#111" stroke-width="1.2" stroke-linejoin="round"/>
<path d="M414.55 145.85h6.1v6.1h-6.1zM426.45 145.85h6.1v6.1h-6.1zM438.45 145.85h6.1v6.1h-6.1zM450.35 145.85h6.1v6.1h-6.1zM462.45 145.85h6.1v6.1h-6.1zM473.95 145.85h6.1v6.1h-6.1zM483.85 145.85h6.1v6.1h-6.1zM497.75 145.85h6.1v6.1h-6.1zM509.95 145.85h6.1v6.1h-6.1z" fill="#fff" stroke="#111" stroke-width="1.1"/>
<path d="M414.5 114.9h6.2v6.2h-6.2zM426.4 112.1h6.2v6.2h-6.2zM438.4 118.1h6.2v6.2h-6.2zM450.3 119.3h6.2v6.2h-6.2zM462.4 112.3h6.2v6.2h-6.2zM473.9 90.8h6.2v6.2h-6.2zM483.8 54.6h6.2v6.2h-6.2zM497.7 59.5h6.2v6.2h-6.2zM509.9 53.4h6.2v6.2h-6.2z" fill="#0a0a0a"/>
<path d="M225 258.5H246.4" stroke="#111" stroke-width="1" fill="none"/>
<path d="M383.3 258.5H403.8" stroke="#333" stroke-width="1" fill="none"/>
<circle cx="235.7" cy="258.6" r="3.1" fill="#0a0a0a"/>
<circle cx="393.5" cy="258.6" r="2.95" fill="#fff" stroke="#333" stroke-width="0.95"/>
<text x="250.7" y="262" font-size="10.8" textLength="97.5" lengthAdjust="spacingAndGlyphs">MDA-MB-231-pp65</text>
<text x="408" y="262" font-size="10.7" textLength="68.3" lengthAdjust="spacingAndGlyphs">MDA-MB-231</text>
<path d="M201.5 282.57V401.5H321.2M201.5 401.5h-7.6M201.5 386.71h-4M201.5 371.93h-7.6M201.5 357.14h-4M201.5 342.35h-7.6M201.5 327.56h-4M201.5 312.77h-7.6M201.5 297.99h-4M201.5 283.2h-7.6M211.5 401.5v7.6M221.38 401.5v4.3M231.27 401.5v7.6M241.16 401.5v4.3M251.04 401.5v7.6M260.93 401.5v4.3M270.81 401.5v7.6M280.69 401.5v4.3M290.58 401.5v7.6M300.46 401.5v4.3M310.35 401.5v7.6M320.24 401.5v4.3" fill="none" stroke="#111" stroke-width="1.25"/>
<text x="189.3" y="405.35" font-size="10.9" text-anchor="end" textLength="6.48" lengthAdjust="spacingAndGlyphs">0</text>
<text x="189.3" y="375.78" font-size="10.9" text-anchor="end" textLength="19.45" lengthAdjust="spacingAndGlyphs">200</text>
<text x="189.3" y="346.2" font-size="10.9" text-anchor="end" textLength="19.45" lengthAdjust="spacingAndGlyphs">400</text>
<text x="189.3" y="316.62" font-size="10.9" text-anchor="end" textLength="19.45" lengthAdjust="spacingAndGlyphs">600</text>
<text x="189.3" y="287.05" font-size="10.9" text-anchor="end" textLength="19.45" lengthAdjust="spacingAndGlyphs">800</text>
<text x="211.5" y="423.6" font-size="10.9" text-anchor="middle">–1</text>
<text x="231.27" y="423.6" font-size="10.9" text-anchor="middle">0</text>
<text x="251.04" y="423.6" font-size="10.9" text-anchor="middle">1</text>
<text x="270.81" y="423.6" font-size="10.9" text-anchor="middle">2</text>
<text x="290.58" y="423.6" font-size="10.9" text-anchor="middle">3</text>
<text x="310.35" y="423.6" font-size="10.9" text-anchor="middle">4</text>
<text x="196.6" y="440.8" font-size="11.1" textLength="124.6" lengthAdjust="spacingAndGlyphs">Log (XmAb808 (ng/mL))</text>
<text transform="translate(158.1 346.8) rotate(-90)" font-size="11.1" text-anchor="middle" textLength="59.2" lengthAdjust="spacingAndGlyphs">IL2 (pg/mL)</text>
<path d="M206.5 401.2 L207.92 401.2 L209.34 401.2 L210.75 401.2 L212.17 401.2 L213.59 401.2 L215 401.2 L216.42 401.2 L217.84 401.2 L219.26 401.2 L220.68 401.2 L222.09 401.2 L223.51 401.2 L224.93 401.2 L226.34 401.2 L227.76 401.2 L229.18 401.2 L230.6 401.2 L232.01 401.2 L233.43 401.2 L234.85 401.2 L236.27 401.2 L237.69 401.2 L239.1 401.2 L240.52 401.2 L241.94 401.2 L243.35 401.2 L244.77 401.19 L246.19 401.19 L247.61 401.19 L249.02 401.19 L250.44 401.18 L251.86 401.18 L253.28 401.17 L254.69 401.16 L256.11 401.15 L257.53 401.14 L258.95 401.13 L260.37 401.11 L261.78 401.08 L263.2 401.05 L264.62 401 L266.03 400.95 L267.45 400.88 L268.87 400.79 L270.29 400.68 L271.7 400.54 L273.12 400.36 L274.54 400.14 L275.96 399.87 L277.38 399.54 L278.79 399.13 L280.21 398.64 L281.63 398.07 L283.04 397.4 L284.46 396.64 L285.88 395.79 L287.3 394.88 L288.71 393.92 L290.13 392.95 L291.55 391.98 L292.97 391.05 L294.38 390.19 L295.8 389.41 L297.22 388.71 L298.64 388.11 L300.05 387.6 L301.47 387.17 L302.89 386.82 L304.31 386.53 L305.72 386.29 L307.14 386.11 L308.56 385.96 L309.98 385.84 L311.39 385.74 L312.81 385.67 L314.23 385.61 L315.65 385.57 L317.06 385.53 L318.48 385.5 L319.9 385.48" fill="none" stroke="#111" stroke-width="1.2" stroke-linejoin="round"/>
<path d="M206.5 382.4 L207.92 382.4 L209.34 382.4 L210.75 382.4 L212.17 382.4 L213.59 382.4 L215 382.4 L216.42 382.4 L217.84 382.4 L219.26 382.4 L220.68 382.4 L222.09 382.4 L223.51 382.4 L224.93 382.4 L226.34 382.4 L227.76 382.4 L229.18 382.4 L230.6 382.4 L232.01 382.4 L233.43 382.4 L234.85 382.4 L236.27 382.39 L237.69 382.39 L239.1 382.39 L240.52 382.39 L241.94 382.38 L243.35 382.38 L244.77 382.37 L246.19 382.36 L247.61 382.34 L249.02 382.32 L250.44 382.3 L251.86 382.26 L253.28 382.22 L254.69 382.16 L256.11 382.08 L257.53 381.98 L258.95 381.84 L260.37 381.66 L261.78 381.42 L263.2 381.1 L264.62 380.69 L266.03 380.14 L267.45 379.42 L268.87 378.49 L270.29 377.28 L271.7 375.74 L273.12 373.77 L274.54 371.31 L275.96 368.27 L277.38 364.61 L278.79 360.29 L280.21 355.35 L281.63 349.88 L283.04 344.03 L284.46 338.03 L285.88 332.12 L287.3 326.5 L288.71 321.37 L290.13 316.84 L291.55 312.96 L292.97 309.72 L294.38 307.08 L295.8 304.96 L297.22 303.28 L298.64 301.97 L300.05 300.96 L301.47 300.18 L302.89 299.58 L304.31 299.12 L305.72 298.77 L307.14 298.51 L308.56 298.31 L309.98 298.16 L311.39 298.05 L312.81 297.96 L314.23 297.9 L315.65 297.85 L317.06 297.81 L318.48 297.78 L319.9 297.76" fill="none" stroke="#111" stroke-width="1.2" stroke-linejoin="round"/>
<path d="M244.2 380.3V386.5M241.1 380.3h6.2M241.1 386.5h6.2M291.5 309.8V319.1M288.4 309.8h6.2M288.4 319.1h6.2M301 285.6V304.3M297.9 285.6h6.2M297.9 304.3h6.2M310.4 297.7V307.5M307.3 297.7h6.2M307.3 307.5h6.2M319.9 296V304.1M316.8 296h6.2M316.8 304.1h6.2M310.4 381.1V387.9M307.3 381.1h6.2M307.3 387.9h6.2" fill="none" stroke="#111" stroke-width="1.1"/>
<circle cx="206.5" cy="401.2" r="2.9" fill="#fff" stroke="#111" stroke-width="1.15"/>
<circle cx="216" cy="401.2" r="2.9" fill="#fff" stroke="#111" stroke-width="1.15"/>
<circle cx="225.4" cy="401.2" r="2.9" fill="#fff" stroke="#111" stroke-width="1.15"/>
<circle cx="234.9" cy="401.2" r="2.9" fill="#fff" stroke="#111" stroke-width="1.15"/>
<circle cx="244.2" cy="401.2" r="2.9" fill="#fff" stroke="#111" stroke-width="1.15"/>
<circle cx="253.7" cy="401.2" r="2.9" fill="#fff" stroke="#111" stroke-width="1.15"/>
<circle cx="263.2" cy="400.6" r="2.9" fill="#fff" stroke="#111" stroke-width="1.15"/>
<circle cx="272.7" cy="399.6" r="2.9" fill="#fff" stroke="#111" stroke-width="1.15"/>
<circle cx="282.1" cy="397.3" r="2.9" fill="#fff" stroke="#111" stroke-width="1.15"/>
<circle cx="291.5" cy="391.4" r="2.9" fill="#fff" stroke="#111" stroke-width="1.15"/>
<circle cx="301" cy="387.2" r="2.9" fill="#fff" stroke="#111" stroke-width="1.15"/>
<circle cx="310.4" cy="384.9" r="2.9" fill="#fff" stroke="#111" stroke-width="1.15"/>
<circle cx="319.9" cy="387.6" r="2.9" fill="#fff" stroke="#111" stroke-width="1.15"/>
<circle cx="206.5" cy="381" r="3.25" fill="#0a0a0a"/>
<circle cx="216" cy="385.8" r="3.25" fill="#0a0a0a"/>
<circle cx="225.4" cy="382.6" r="3.25" fill="#0a0a0a"/>
<circle cx="234.9" cy="381" r="3.25" fill="#0a0a0a"/>
<circle cx="244.2" cy="383.4" r="3.25" fill="#0a0a0a"/>
<circle cx="253.7" cy="382.5" r="3.25" fill="#0a0a0a"/>
<circle cx="263.2" cy="380.3" r="3.25" fill="#0a0a0a"/>
<circle cx="272.7" cy="365" r="3.25" fill="#0a0a0a"/>
<circle cx="282.1" cy="354.1" r="3.25" fill="#0a0a0a"/>
<circle cx="291.5" cy="314.5" r="3.25" fill="#0a0a0a"/>
<circle cx="301" cy="294.7" r="3.25" fill="#0a0a0a"/>
<circle cx="310.4" cy="302.5" r="3.25" fill="#0a0a0a"/>
<circle cx="319.9" cy="300.3" r="3.25" fill="#0a0a0a"/>
<path d="M398.2 282.57V401.5H517M398.2 401.5h-8M398.2 381.78h-4M398.2 362.07h-8M398.2 342.35h-4M398.2 322.63h-8M398.2 302.92h-4M398.2 283.2h-8M407.7 401.5v8M417.65 401.5v4.3M427.6 401.5v8M437.55 401.5v4.3M447.5 401.5v8M457.45 401.5v4.3M467.4 401.5v8M477.35 401.5v4.3M487.3 401.5v8M497.25 401.5v4.3M507.2 401.5v8M516.98 401.5v4.3" fill="none" stroke="#111" stroke-width="1.25"/>
<text x="385.2" y="405.35" font-size="10.9" text-anchor="end">0</text>
<text x="385.2" y="365.92" font-size="10.9" text-anchor="end">4</text>
<text x="385.2" y="326.48" font-size="10.9" text-anchor="end">8</text>
<text x="385.2" y="287.05" font-size="10.9" text-anchor="end">12</text>
<text x="407.7" y="423.6" font-size="10.9" text-anchor="middle">–1</text>
<text x="427.6" y="423.6" font-size="10.9" text-anchor="middle">0</text>
<text x="447.5" y="423.6" font-size="10.9" text-anchor="middle">1</text>
<text x="467.4" y="423.6" font-size="10.9" text-anchor="middle">2</text>
<text x="487.3" y="423.6" font-size="10.9" text-anchor="middle">3</text>
<text x="507.2" y="423.6" font-size="10.9" text-anchor="middle">4</text>
<text x="392.9" y="440.2" font-size="11.1" textLength="125.4" lengthAdjust="spacingAndGlyphs">Log (XmAb808 (ng/mL))</text>
<text transform="translate(364.4 346.9) rotate(-90)" font-size="10.4" text-anchor="middle" textLength="66.8" lengthAdjust="spacingAndGlyphs">IFN<tspan font-size="9">γ</tspan> (ng/mL)</text>
<path d="M403.2 401.3H516.6" fill="none" stroke="#111" stroke-width="1.2" stroke-linejoin="round"/>
<path d="M403.2 378 L404.62 378 L406.03 378 L407.45 378 L408.87 378 L410.29 377.99 L411.7 377.99 L413.12 377.99 L414.54 377.99 L415.96 377.99 L417.38 377.99 L418.79 377.98 L420.21 377.98 L421.63 377.98 L423.05 377.97 L424.46 377.97 L425.88 377.96 L427.3 377.96 L428.71 377.95 L430.13 377.94 L431.55 377.93 L432.97 377.91 L434.38 377.9 L435.8 377.88 L437.22 377.85 L438.64 377.83 L440.06 377.8 L441.47 377.76 L442.89 377.71 L444.31 377.66 L445.73 377.6 L447.14 377.53 L448.56 377.44 L449.98 377.34 L451.39 377.22 L452.81 377.07 L454.23 376.9 L455.65 376.71 L457.06 376.47 L458.48 376.2 L459.9 375.88 L461.32 375.51 L462.74 375.07 L464.15 374.56 L465.57 373.97 L466.99 373.29 L468.4 372.5 L469.82 371.6 L471.24 370.58 L472.66 369.41 L474.08 368.11 L475.49 366.66 L476.91 365.05 L478.33 363.29 L479.75 361.38 L481.16 359.35 L482.58 357.19 L484 354.95 L485.42 352.64 L486.83 350.3 L488.25 347.95 L489.67 345.65 L491.09 343.41 L492.5 341.26 L493.92 339.23 L495.34 337.33 L496.75 335.58 L498.17 333.97 L499.59 332.53 L501.01 331.23 L502.43 330.07 L503.84 329.06 L505.26 328.16 L506.68 327.38 L508.1 326.7 L509.51 326.12 L510.93 325.61 L512.35 325.18 L513.76 324.8 L515.18 324.49 L516.6 324.22" fill="none" stroke="#111" stroke-width="1.2" stroke-linejoin="round"/>
<path d="M422.1 372V381.5M419 372h6.2M419 381.5h6.2M431.5 371.7V381.8M428.4 371.7h6.2M428.4 381.8h6.2M497.6 329.7V347.3M494.5 329.7h6.2M494.5 347.3h6.2M507 284.7V335.9M503.9 284.7h6.2M503.9 335.9h6.2M516.6 332.3V340M513.5 332.3h6.2M513.5 340h6.2" fill="none" stroke="#111" stroke-width="1.1"/>
<circle cx="403.2" cy="401.3" r="2.9" fill="#fff" stroke="#111" stroke-width="1.15"/>
<circle cx="412.6" cy="401.3" r="2.9" fill="#fff" stroke="#111" stroke-width="1.15"/>
<circle cx="422.1" cy="401.3" r="2.9" fill="#fff" stroke="#111" stroke-width="1.15"/>
<circle cx="431.5" cy="401.3" r="2.9" fill="#fff" stroke="#111" stroke-width="1.15"/>
<circle cx="440.9" cy="401.3" r="2.9" fill="#fff" stroke="#111" stroke-width="1.15"/>
<circle cx="450.4" cy="401.3" r="2.9" fill="#fff" stroke="#111" stroke-width="1.15"/>
<circle cx="460" cy="401.3" r="2.9" fill="#fff" stroke="#111" stroke-width="1.15"/>
<circle cx="469.4" cy="401.3" r="2.9" fill="#fff" stroke="#111" stroke-width="1.15"/>
<circle cx="478.8" cy="401.3" r="2.9" fill="#fff" stroke="#111" stroke-width="1.15"/>
<circle cx="488.2" cy="400.6" r="2.9" fill="#fff" stroke="#111" stroke-width="1.15"/>
<circle cx="497.6" cy="400.1" r="2.9" fill="#fff" stroke="#111" stroke-width="1.15"/>
<circle cx="507" cy="399.2" r="2.9" fill="#fff" stroke="#111" stroke-width="1.15"/>
<circle cx="516.6" cy="400.6" r="2.9" fill="#fff" stroke="#111" stroke-width="1.15"/>
<circle cx="403.2" cy="376.9" r="3.25" fill="#0a0a0a"/>
<circle cx="412.6" cy="380.5" r="3.25" fill="#0a0a0a"/>
<circle cx="422.1" cy="376.9" r="3.25" fill="#0a0a0a"/>
<circle cx="431.5" cy="376.8" r="3.25" fill="#0a0a0a"/>
<circle cx="440.9" cy="380" r="3.25" fill="#0a0a0a"/>
<circle cx="450.4" cy="378.9" r="3.25" fill="#0a0a0a"/>
<circle cx="460" cy="375.8" r="3.25" fill="#0a0a0a"/>
<circle cx="469.4" cy="371.5" r="3.25" fill="#0a0a0a"/>
<circle cx="478.8" cy="359.8" r="3.25" fill="#0a0a0a"/>
<circle cx="488.2" cy="351.1" r="3.25" fill="#0a0a0a"/>
<circle cx="497.6" cy="338.5" r="3.25" fill="#0a0a0a"/>
<circle cx="507" cy="310.1" r="3.25" fill="#0a0a0a"/>
<circle cx="516.6" cy="336.5" r="3.25" fill="#0a0a0a"/>
</svg>
</body></html>
